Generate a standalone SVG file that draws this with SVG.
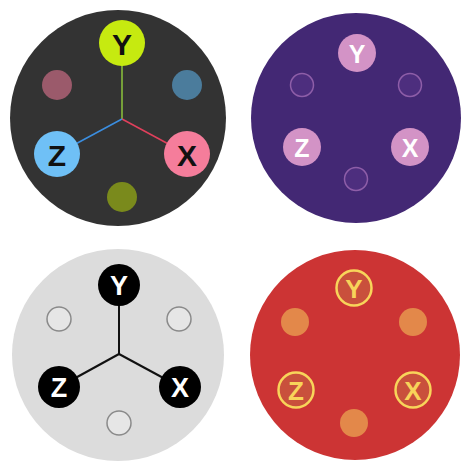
<svg xmlns="http://www.w3.org/2000/svg" width="474" height="474" viewBox="0 0 474 474">
<style>
text{font-family:"Liberation Sans",Arial,sans-serif;font-weight:bold;text-anchor:middle;dominant-baseline:central}
.t1{font-size:30px;fill:#111}
.t2{font-size:25px;fill:#fff}
.t3{font-size:27px;fill:#fff}
.t4{font-size:26px;fill:#f8d45a}
</style>
<rect width="474" height="474" fill="#fff"/>
<g id="panel-dark">
<circle cx="118" cy="118" r="108" fill="#333333"/>
<g id="dark-connectors">
<line x1="122" y1="119" x2="122" y2="43" stroke="#8cc43c" stroke-width="1.5"/>
<line x1="122" y1="119" x2="187" y2="154" stroke="#e0405c" stroke-width="1.5"/>
<line x1="122" y1="119" x2="57" y2="154" stroke="#3b8ee0" stroke-width="1.5"/>
</g>
<circle cx="57" cy="85" r="15" fill="#9b5a6b"/>
<circle cx="187" cy="85" r="15" fill="#4b7c9c"/>
<circle cx="122" cy="197" r="15" fill="#7a8a1c"/>
<g id="dark-Y"><circle cx="122" cy="43" r="23" fill="#c6ea10"/><text class="t1" x="122" y="44">Y</text></g>
<g id="dark-X"><circle cx="187" cy="154" r="23" fill="#f57d9b"/><text class="t1" x="187" y="155">X</text></g>
<g id="dark-Z"><circle cx="57" cy="154" r="23" fill="#6fc0f6"/><text class="t1" x="57" y="155">Z</text></g>
</g>
<g id="panel-purple">
<circle cx="356" cy="118" r="105" fill="#432874"/>
<circle cx="302" cy="85" r="11.5" fill="#4d2e7e" stroke="#8e5ea8" stroke-width="1.5"/>
<circle cx="410" cy="85" r="11.5" fill="#4d2e7e" stroke="#8e5ea8" stroke-width="1.5"/>
<circle cx="356" cy="179" r="11.5" fill="#4d2e7e" stroke="#8e5ea8" stroke-width="1.5"/>
<g id="purple-Y"><circle cx="357" cy="53" r="19" fill="#d393c6"/><text class="t2" x="357" y="54">Y</text></g>
<g id="purple-X"><circle cx="410" cy="147" r="19" fill="#d393c6"/><text class="t2" x="410" y="148">X</text></g>
<g id="purple-Z"><circle cx="302" cy="147" r="19" fill="#d393c6"/><text class="t2" x="302" y="148">Z</text></g>
</g>
<g id="panel-grey">
<circle cx="118" cy="355" r="106" fill="#dcdcdc"/>
<g id="grey-connectors" stroke="#111" stroke-width="2">
<line x1="119" y1="354" x2="119" y2="285"/>
<line x1="119" y1="354" x2="180" y2="387"/>
<line x1="119" y1="354" x2="59" y2="387"/>
</g>
<circle cx="59" cy="319" r="12" fill="#e6e6e6" stroke="#8a8a8a" stroke-width="1.5"/>
<circle cx="179" cy="319" r="12" fill="#e6e6e6" stroke="#8a8a8a" stroke-width="1.5"/>
<circle cx="119" cy="423" r="12" fill="#e6e6e6" stroke="#8a8a8a" stroke-width="1.5"/>
<g id="grey-Y"><circle cx="119" cy="285" r="21" fill="#000"/><text class="t3" x="119" y="286">Y</text></g>
<g id="grey-X"><circle cx="180" cy="387" r="21" fill="#000"/><text class="t3" x="180" y="388">X</text></g>
<g id="grey-Z"><circle cx="59" cy="387" r="21" fill="#000"/><text class="t3" x="59" y="388">Z</text></g>
</g>
<g id="panel-red">
<circle cx="355" cy="355" r="105" fill="#cc3434"/>
<circle cx="295" cy="322" r="14" fill="#e3884a"/>
<circle cx="413" cy="322" r="14" fill="#e3884a"/>
<circle cx="354" cy="423" r="14" fill="#e3884a"/>
<g id="red-Y"><circle cx="354" cy="288" r="17.5" fill="#c9503c" stroke="#f8d45a" stroke-width="2.5"/><text class="t4" x="354" y="289">Y</text></g>
<g id="red-X"><circle cx="413" cy="390" r="17.5" fill="#c9503c" stroke="#f8d45a" stroke-width="2.5"/><text class="t4" x="413" y="391">X</text></g>
<g id="red-Z"><circle cx="296" cy="390" r="17.5" fill="#c9503c" stroke="#f8d45a" stroke-width="2.5"/><text class="t4" x="296" y="391">Z</text></g>
</g>
</svg>
